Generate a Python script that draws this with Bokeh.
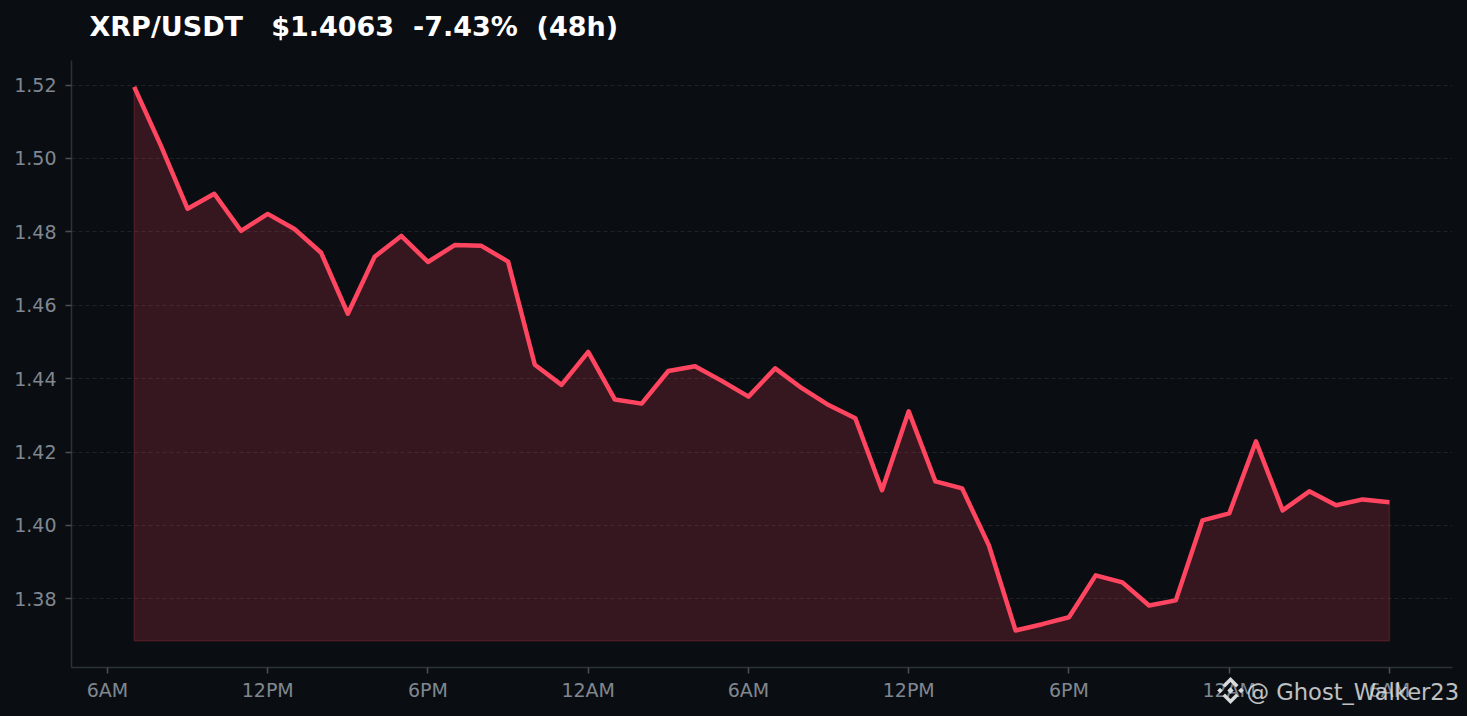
from bokeh.plotting import figure
from bokeh.layouts import column
from bokeh.models import FixedTicker, NumeralTickFormatter
from bokeh.core.properties import value
from bokeh.embed import file_html
from bokeh.resources import INLINE

hours = list(range(1, 49))
prices = [1.5195, 1.5035, 1.4863, 1.4904, 1.4803, 1.4849, 1.4808, 1.4743, 1.4577, 1.4732,
          1.4789, 1.4718, 1.4764, 1.4762, 1.4719, 1.4438, 1.4383, 1.4473, 1.4343, 1.4332,
          1.4421, 1.4434, 1.4394, 1.4351, 1.4428, 1.4374, 1.4328, 1.4292, 1.4096, 1.4311,
          1.4120, 1.4101, 1.3946, 1.3714, 1.3731, 1.3750, 1.3864, 1.3845, 1.3782, 1.3796,
          1.4014, 1.4033, 1.4229, 1.4041, 1.4093, 1.4055, 1.4071, 1.4063]
baseline = 1.3686
x_ticks = [0, 6, 12, 18, 24, 30, 36, 42, 48]
x_labels = ["6AM", "12PM", "6PM", "12AM", "6AM", "12PM", "6PM", "12AM", "6AM"]
y_ticks = [1.38, 1.40, 1.42, 1.44, 1.46, 1.48, 1.50, 1.52]
title_text = "XRP/USDT\u00a0\u00a0\u00a0$1.4063\u00a0\u00a0-7.43%\u00a0\u00a0(48h)"
watermark = "@ Ghost_Walker23"

BG = "#0a0e12"
FONT = "DejaVu Sans"

p = figure(width=1467, height=716, output_backend="svg", toolbar_location=None,
           x_range=(-1.347, 50.36), y_range=(1.3613, 1.5267),
           background_fill_color=BG, border_fill_color=BG,
           min_border_left=71, min_border_right=15, min_border_top=60, min_border_bottom=49)
p.outline_line_color = None
p.frame_align = False

p.xgrid.visible = False
p.ygrid.grid_line_color = "#f0f0f0"
p.ygrid.grid_line_alpha = 0.09
p.ygrid.grid_line_dash = "4 3"
p.ygrid.grid_line_width = 1

for ax in (p.xaxis[0], p.yaxis[0]):
    ax.axis_line_color = "#2b3238"
    ax.axis_line_width = 1.5
    ax.major_tick_line_color = "#4a5158"
    ax.major_tick_line_width = 1.5
    ax.major_tick_out = 6
    ax.major_tick_in = 0
    ax.minor_tick_line_color = None
    ax.major_label_text_color = "#808790"
    ax.major_label_text_font = FONT
    ax.major_label_text_font_size = "19px"

p.xaxis[0].major_label_standoff = 5
p.yaxis[0].major_label_standoff = 9
p.xaxis[0].ticker = FixedTicker(ticks=x_ticks)
p.xaxis[0].major_label_overrides = dict(zip(x_ticks, x_labels))
p.yaxis[0].ticker = FixedTicker(ticks=y_ticks)
p.yaxis[0].formatter = NumeralTickFormatter(format="0.00")

p.varea(x=hours, y1=[baseline] * len(hours), y2=prices, fill_color="#ff4560", fill_alpha=0.18)
edge_x = [hours[0], hours[0], hours[-1], hours[-1]]
edge_y = [prices[0], baseline, baseline, prices[-1]]
p.line(edge_x, edge_y, line_color="#ff4560", line_alpha=0.18, line_width=1.5)
p.line(hours, prices, line_color="#ff4560", line_width=4.5, line_join="round")

# Heading and watermark: a transparent sheet laid over the chart, in page pixels
q = figure(width=1467, height=716, output_backend="svg", toolbar_location=None,
           x_range=(0, 1467), y_range=(716, 0),
           background_fill_color=None, border_fill_color=None,
           min_border=0, outline_line_color=None)
q.frame_align = False
q.axis.visible = False
q.grid.visible = False
q.styles = {"position": "absolute", "left": "0px", "top": "0px", "pointer-events": "none"}

q.text(x=[89], y=[26], text=[title_text], text_color="#ffffff", text_font=value(FONT),
       text_font_style="bold", text_font_size="27px", text_baseline="alphabetic")
q.text(x=[1246], y=[691], text=[watermark], text_color="#e0e2e4", text_alpha=0.85,
       text_font=value(FONT), text_font_size="22.6px", text_baseline="alphabetic")

cx, cy = 1230, 690
pieces = [
    [(0, 3.2), (3.2, 0), (0, -3.2), (-3.2, 0)],
    [(-10.5, 2.8), (-7.7, 0), (-10.5, -2.8), (-13.3, 0)],
    [(10.5, 2.8), (13.3, 0), (10.5, -2.8), (7.7, 0)],
    [(0, 13.5), (8, 5.5), (5.5, 3), (0, 8.5), (-5.5, 3), (-8, 5.5)],
    [(0, -13.5), (8, -5.5), (5.5, -3), (0, -8.5), (-5.5, -3), (-8, -5.5)],
]
q.patches(xs=[[cx + a for a, b in s] for s in pieces], ys=[[cy + b for a, b in s] for s in pieces],
          fill_color="#d8dadc", line_color=None)

html = file_html(column(p, q, spacing=0), INLINE)
html = html.replace("<head>", "<head><style>html,body{margin:0;padding:0;background:%s;overflow:hidden}</style>" % BG, 1)
open("out.html", "w").write(html)
